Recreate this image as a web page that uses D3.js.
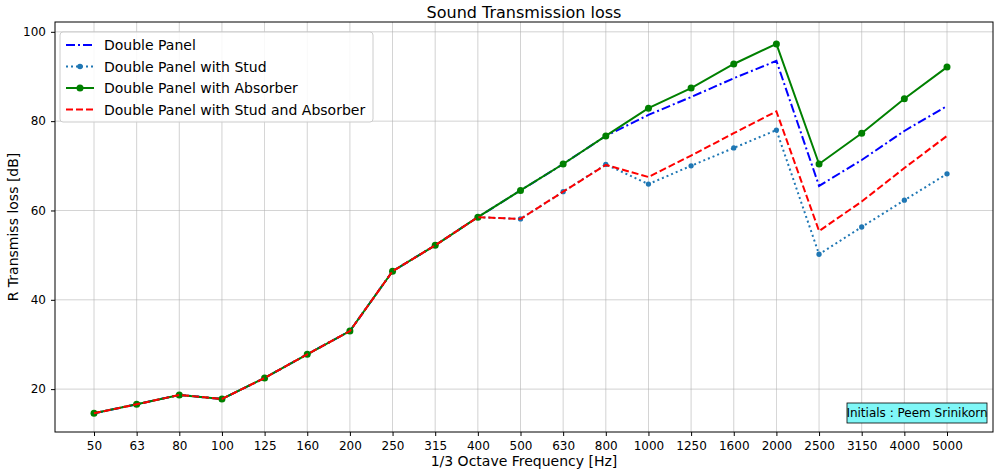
<!DOCTYPE html><html><head><meta charset="utf-8"><script src="https://cdn.jsdelivr.net/npm/d3@7"></script>
<style>body{margin:0;background:#fff;font-family:"DejaVu Sans",sans-serif}</style></head><body><svg id="c" width="1000" height="475"></svg>
<script>
const categories=["50","63","80","100","125","160","200","250","315","400","500","630","800","1000","1250","1600","2000","2500","3150","4000","5000"].filter(d=>d!=="");
const cats=["50","63","80","100","125","160","200","250","315","400","500","630","800","1000","1250","1600","2000","2500","3150","4000","5000"];
const common=[14.6,16.6,18.7,17.8,22.5,27.8,33,46.4,52.2,58.5];
const doublePanel=common.concat([64.5,70.4,76.7,81.4,85.4,89.6,93.5,65.5,71.3,77.8,83.4]);
const withStud=common.concat([58.1,64.2,70.3,65.9,70,74,78,50.2,56.3,62.3,68.2]);
const withAbsorber=common.concat([64.5,70.4,76.7,82.9,87.4,92.8,97.3,70.4,77.3,85,92.1]);
const studAbsorber=common.concat([58.1,64.2,70.2,67.5,72.3,77.3,82.2,55.4,62,69.5,76.7]);
const yTicks=[20,40,60,80,100];
const svg=d3.select("#c");
const L=55,R=993,T=22,B=432;
const x=d3.scalePoint().domain(cats).range([94,947]);
const y=d3.scaleLinear().domain([10.4,102.2]).range([B,T]);
const g=svg.append("g");
// grid
g.selectAll(".vg").data(cats).join("line").attr("x1",d=>x(d)).attr("x2",d=>x(d)).attr("y1",T).attr("y2",B).attr("stroke","#b0b0b0").attr("stroke-width",0.8).attr("opacity",0.7);
g.selectAll(".hg").data(yTicks).join("line").attr("x1",L).attr("x2",R).attr("y1",d=>y(d)).attr("y2",d=>y(d)).attr("stroke","#b0b0b0").attr("stroke-width",0.8).attr("opacity",0.7);
const ax=svg.append("g").attr("transform",`translate(0,${B})`).call(d3.axisBottom(x).tickSizeOuter(0).tickSize(4).tickPadding(5));
const ay=svg.append("g").attr("transform",`translate(${L},0)`).call(d3.axisLeft(y).tickValues(yTicks).tickSize(4).tickPadding(5));
[ax,ay].forEach(a=>{a.selectAll("text").attr("font-size",12).attr("fill","#000").attr("font-family","DejaVu Sans");a.select(".domain").remove();});
svg.append("rect").attr("x",L).attr("y",T).attr("width",R-L).attr("height",B-T).attr("fill","none").attr("stroke","#000").attr("stroke-width",1);
const line=d3.line().x((d,i)=>x(cats[i])).y(d=>y(d));
const series=[
 {n:"Double Panel",d:doublePanel,c:"blue",dash:"9,3,2,3",m:null},
 {n:"Double Panel with Stud",d:withStud,c:"#1f77b4",dash:"2,3",m:"p"},
 {n:"Double Panel with Absorber",d:withAbsorber,c:"green",dash:null,m:"o"},
 {n:"Double Panel with Stud and Absorber",d:studAbsorber,c:"red",dash:"7,3",m:null}];
const pent=d3.symbol().type(d3.symbolStar);
series.forEach(s=>{
 svg.append("path").attr("d",line(s.d)).attr("fill","none").attr("stroke",s.c).attr("stroke-width",2).attr("stroke-dasharray",s.dash);
 if(s.m==="o") svg.selectAll(null).data(s.d).join("circle").attr("cx",(d,i)=>x(cats[i])).attr("cy",d=>y(d)).attr("r",3.5).attr("fill",s.c);
 if(s.m==="p") svg.selectAll(null).data(s.d).join("path").attr("d",d3.symbol().type(d3.symbolCircle).size(22)()).attr("transform",(d,i)=>`translate(${x(cats[i])},${y(d)})`).attr("fill",s.c);
});
// redraw red on top is already last
const lg=svg.append("g");
lg.append("rect").attr("x",60).attr("y",32).attr("width",313).attr("height",90).attr("fill","#fff").attr("fill-opacity",0.85).attr("stroke","#ccc").attr("rx",3);
series.forEach((s,i)=>{
 const yy=45+i*21.5;
 lg.append("line").attr("x1",66).attr("x2",94).attr("y1",yy).attr("y2",yy).attr("stroke",s.c).attr("stroke-width",2).attr("stroke-dasharray",s.dash);
 if(s.m==="o") lg.append("circle").attr("cx",80).attr("cy",yy).attr("r",3.5).attr("fill",s.c);
 if(s.m==="p") lg.append("circle").attr("cx",80).attr("cy",yy).attr("r",2.8).attr("fill",s.c);
 lg.append("text").attr("x",104).attr("y",yy+5).attr("font-size",14).text(s.n);
});
svg.append("rect").attr("x",847).attr("y",403).attr("width",140).attr("height",20).attr("fill","#7ff7f7").attr("stroke","#000").attr("stroke-width",0.8);
svg.append("text").attr("x",917).attr("y",417).attr("text-anchor","middle").attr("font-size",12).text("Initials : Peem Srinikorn");
svg.append("text").attr("x",524).attr("y",18).attr("text-anchor","middle").attr("font-size",16).text("Sound Transmission loss");
svg.append("text").attr("x",524).attr("y",466).attr("text-anchor","middle").attr("font-size",14).text("1/3 Octave Frequency [Hz]");
svg.append("text").attr("transform",`translate(18,${(T+B)/2}) rotate(-90)`).attr("text-anchor","middle").attr("font-size",14).text("R Transmiss loss [dB]");
</script></body></html>
